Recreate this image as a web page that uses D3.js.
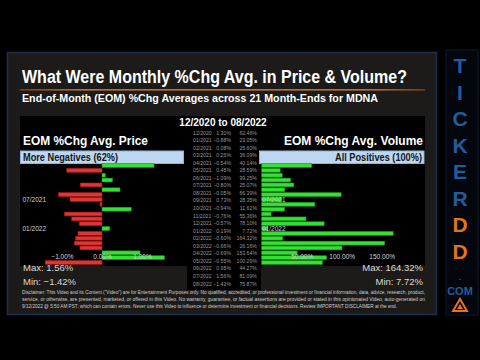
<!DOCTYPE html>
<html><head><meta charset="utf-8">
<script src="https://cdn.jsdelivr.net/npm/d3@7"></script>
<style>
html,body{margin:0;padding:0;background:#000;}
svg{display:block;font-family:"Liberation Sans",Arial,sans-serif;}
</style></head>
<body><svg id="c" width="480" height="360"></svg>
<script>
const months = ["12/2020","01/2021","02/2021","03/2021","04/2021","05/2021","06/2021","07/2021","08/2021","09/2021","10/2021","11/2021","12/2021","01/2022","02/2022","03/2022","04/2022","05/2022","06/2022","07/2022","08/2022"];
const priceChg = [1.30,-0.88,0.08,0.26,-0.54,0.45,-1.09,-0.80,-0.05,0.73,-0.94,-0.76,-0.57,0.19,-0.60,-0.66,-0.69,-0.55,0.95,1.56,-1.42];
const volumeChg = [62.46,23.05,25.60,36.09,40.14,28.59,99.25,25.07,66.39,28.35,11.62,55.36,78.10,7.72,164.32,26.16,153.64,100.29,44.27,81.09,75.87];
const priceTicks = [-1,0,1];
const volumeTicks = [50,100,150];
const yLabels = ["07/2021","01/2022"];
const disclaimer = [
 "Disclaimer: This Video and its Content (\"Video\") are for Entertainment Purposes only. No qualified, accredited, or professional investment or financial information, data, advice, research, product,",
 "service, or otherwise, are presented, marketed, or offered in this Video. No warranty, guarantee, or factual assertions are provided or stated in this opinionated Video, auto-generated on",
 "9/12/2022 @ 5:50 AM PST, which can contain errors. Never use this Video to influence or determine investment or financial decisions. Review IMPORTANT DISCLAIMER at the end."
];
const brand = ["T","I","C","K","E","R","D","D"];

const svg = d3.select("#c");
svg.append("rect").attr("width",480).attr("height",360).attr("fill","#000");

// watermark side panel
svg.append("rect").attr("x",446).attr("y",50).attr("width",32).attr("height",265)
  .attr("fill","#03060c").attr("stroke","#0f1a2a").attr("stroke-width",1);
brand.forEach((ch,i)=>{
  svg.append("text").attr("x",460).attr("y",73+i*26.5).attr("text-anchor","middle")
    .attr("font-size",21).attr("font-weight","bold")
    .attr("fill", i>=6 ? "#e5721c" : "#225c9c").text(ch);
});
svg.append("text").attr("x",460).attr("y",280).attr("text-anchor","middle").attr("font-size",8).attr("font-weight","bold").attr("fill","#225c9c").text(".");
svg.append("text").attr("x",460).attr("y",295).attr("text-anchor","middle").attr("font-size",11).attr("font-weight","bold").attr("fill","#225c9c").text("COM");
svg.append("path").attr("d","M460,299 L467,311 L453,311 Z").attr("fill","none").attr("stroke","#e5721c").attr("stroke-width",2);
svg.append("path").attr("d","M460,304 L463,309 L457,309 Z").attr("fill","#e5721c");

// main panel
svg.append("rect").attr("x",7.5).attr("y",52.5).attr("width",429).attr("height",262)
  .attr("fill","#1c1b1a").attr("stroke","#1d3048").attr("stroke-width",1.5);

// title
svg.append("text").attr("x",22).attr("y",83).attr("font-size",18).attr("font-weight","bold")
  .attr("fill","#fff").attr("textLength",385).attr("lengthAdjust","spacingAndGlyphs")
  .text("What Were Monthly %Chg Avg. in Price & Volume?");
const grad = svg.append("defs").append("linearGradient").attr("id","og");
grad.append("stop").attr("offset","0%").attr("stop-color","#7a3c14");
grad.append("stop").attr("offset","15%").attr("stop-color","#c4702f");
grad.append("stop").attr("offset","85%").attr("stop-color","#c4702f");
grad.append("stop").attr("offset","100%").attr("stop-color","#7a3c14");
svg.append("rect").attr("x",20).attr("y",89).attr("width",405).attr("height",1.6).attr("fill","url(#og)");
svg.append("text").attr("x",22).attr("y",102).attr("font-size",11).attr("font-weight","bold")
  .attr("fill","#fff").attr("textLength",356).attr("lengthAdjust","spacingAndGlyphs")
  .text("End-of-Month (EOM) %Chg Averages across 21 Month-Ends for MDNA");

// black chart areas
svg.append("rect").attr("x",20).attr("y",116).attr("width",405).attr("height",150).attr("fill","#000");
svg.append("rect").attr("x",187).attr("y",116).attr("width",74).attr("height",174).attr("fill","#000");

// panel headers
svg.append("text").attr("x",23).attr("y",145).attr("font-size",13.5).attr("font-weight","bold").attr("fill","#fff")
  .attr("textLength",125).attr("lengthAdjust","spacingAndGlyphs").text("EOM %Chg Avg. Price");
svg.append("text").attr("x",423).attr("y",145).attr("font-size",13.5).attr("font-weight","bold").attr("fill","#fff")
  .attr("text-anchor","end").attr("textLength",139).attr("lengthAdjust","spacingAndGlyphs").text("EOM %Chg Avg. Volume");
svg.append("rect").attr("x",20.5).attr("y",151).attr("width",163).attr("height",12.5).attr("fill","#bcd7ef").attr("stroke","#8fb3d6");
svg.append("rect").attr("x",259.5).attr("y",151).attr("width",164.5).attr("height",12.5).attr("fill","#bcd7ef").attr("stroke","#8fb3d6");
const negPct = Math.round(100*priceChg.filter(v=>v<0).length/priceChg.length);
const posPct = Math.round(100*volumeChg.filter(v=>v>0).length/volumeChg.length);
svg.append("text").attr("x",23).attr("y",161).attr("font-size",10.5).attr("font-weight","bold").attr("fill","#151515")
  .attr("textLength",95).attr("lengthAdjust","spacingAndGlyphs").text(`More Negatives (${negPct}%)`);
svg.append("text").attr("x",422).attr("y",161).attr("font-size",10.5).attr("font-weight","bold").attr("fill","#151515")
  .attr("text-anchor","end").attr("textLength",87).attr("lengthAdjust","spacingAndGlyphs").text(`All Positives (${posPct}%)`);

// scales
const y = d3.scaleBand().domain(months).range([163.6,264.4]).paddingInner(0.22);
const xP = d3.scaleLinear().domain([-2,2]).range([22,182]);
const xV = d3.scaleLinear().domain([0,200]).range([261.7,421.7]);

// price bars
svg.append("g").selectAll("rect").data(months).join("rect")
  .attr("x",(d,i)=>xP(Math.min(0,priceChg[i])))
  .attr("y",d=>y(d))
  .attr("width",(d,i)=>Math.max(1,Math.abs(xP(priceChg[i])-xP(0))))
  .attr("height",y.bandwidth())
  .attr("fill",(d,i)=>priceChg[i]<0?"#e23434":"#35e035")
  .attr("stroke",(d,i)=>priceChg[i]<0?"#a51d1d":"#1f9a1f").attr("stroke-width",0.6);

// volume bars
svg.append("g").selectAll("rect").data(months).join("rect")
  .attr("x",xV(0))
  .attr("y",d=>y(d))
  .attr("width",(d,i)=>xV(volumeChg[i])-xV(0))
  .attr("height",y.bandwidth())
  .attr("fill","#35e035").attr("stroke","#1f9a1f").attr("stroke-width",0.6);

function styleAxis(g){
  g.select(".domain").remove();
  g.selectAll("line").remove();
  g.selectAll("text").attr("fill","#d0d0d0").attr("font-size",6.5).attr("font-family","Liberation Sans, Arial, sans-serif");
}
svg.append("g").attr("transform","translate(0,254)")
  .call(d3.axisBottom(xP).tickValues(priceTicks).tickSize(0).tickPadding(0).tickFormat(d=>d3.format(".2f")(d)+"%"))
  .call(styleAxis);
svg.append("g").attr("transform","translate(0,254)")
  .call(d3.axisBottom(xV).tickValues(volumeTicks).tickSize(0).tickPadding(0).tickFormat(d=>d3.format(".2f")(d)+"%"))
  .call(styleAxis);
svg.append("g").attr("transform","translate(46,0)")
  .call(d3.axisLeft(y).tickValues(yLabels).tickSize(0).tickPadding(0))
  .call(styleAxis);
svg.append("g").attr("transform","translate(262,0)")
  .call(d3.axisRight(y).tickValues(yLabels).tickSize(0).tickPadding(0))
  .call(styleAxis);

// middle table
svg.append("text").attr("x",223).attr("y",126).attr("text-anchor","middle").attr("font-size",10).attr("font-weight","bold")
  .attr("fill","#fff").text(`${months[0]} to ${months[months.length-1]}`);
const rowY = d3.scalePoint().domain(months).range([134.5,285.5]);
const tbl = svg.append("g").attr("font-size",5.2).attr("fill","#969696");
months.forEach((m,i)=>{
  tbl.append("text").attr("x",193).attr("y",rowY(m)).text(m);
  tbl.append("text").attr("x",231).attr("y",rowY(m)).attr("text-anchor","end").text(d3.format(".2f")(priceChg[i])+"%");
  tbl.append("text").attr("x",257).attr("y",rowY(m)).attr("text-anchor","end").text(d3.format(".2f")(volumeChg[i])+"%");
});

// max / min
const fmt = v=>d3.format(".2f")(v)+"%";
svg.append("text").attr("x",23).attr("y",271).attr("font-size",9.5).attr("fill","#d8d8d8").text("Max: "+fmt(d3.max(priceChg)));
svg.append("text").attr("x",23).attr("y",285).attr("font-size",9.5).attr("fill","#d8d8d8").text("Min: "+fmt(d3.min(priceChg)));
svg.append("text").attr("x",423).attr("y",271).attr("text-anchor","end").attr("font-size",9.5).attr("fill","#d8d8d8").text("Max: "+fmt(d3.max(volumeChg)));
svg.append("text").attr("x",423).attr("y",285).attr("text-anchor","end").attr("font-size",9.5).attr("fill","#d8d8d8").text("Min: "+fmt(d3.min(volumeChg)));

// disclaimer
const dl = [403,403,375];
disclaimer.forEach((t,i)=>{
  svg.append("text").attr("x",22).attr("y",294+i*7).attr("font-size",5).attr("fill","#d0d0d0")
    .attr("textLength",dl[i]).attr("lengthAdjust","spacingAndGlyphs").text(t);
});
</script></body></html>
